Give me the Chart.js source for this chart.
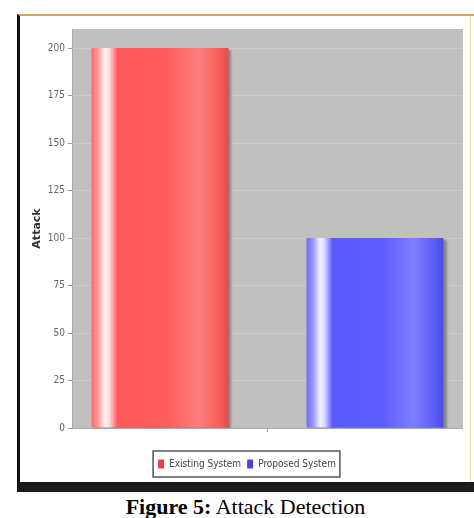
<!DOCTYPE html>
<html lang="en">
<head>
    <meta charset="UTF-8">
    <title>Attack Detection</title>
    <script src="https://cdn.jsdelivr.net/npm/chart.js"></script>
    <style>
        body {
            margin: 0;
            width: 474px;
            height: 518px;
            background: #fff;
            position: relative;
            overflow: hidden;
        }
        #frame {
            position: absolute;
            left: 17px;
            top: 14px;
            width: 457px;
            height: 478px;
            box-sizing: border-box;
            border-left: 3px solid #111;
            border-top: 2px solid #e2a64a;
            border-bottom: 10px solid #1a1a1a;
        }
        #edge {
            position: absolute;
            left: 470px;
            top: 16px;
            width: 1px;
            height: 466px;
            background: #eedcaa;
        }
        #chart-container {
            position: absolute;
            left: 31px;
            top: 16px;
            width: 432px;
            height: 466px;
        }
        #caption {
            position: absolute;
            left: 0;
            top: 495px;
            width: 491px;
            text-align: center;
            font-family: "Liberation Serif", "Times New Roman", serif;
            font-size: 22px;
            line-height: 24px;
            color: #000;
        }
    </style>
</head>
<body>
    <div id="frame"></div>
    <div id="edge"></div>
    <div id="chart-container">
        <canvas id="attackChart"></canvas>
    </div>
    <div id="caption"><b>Figure 5:</b> Attack Detection</div>

    <script>
        const categories = [''];
        const seriesNames = ['Existing System', 'Proposed System'];
        const existingValues = [200];
        const proposedValues = [100];
        const yTickValues = [0, 25, 50, 75, 100, 125, 150, 175, 200];

        const narrow = "'DejaVu Sans Condensed', 'Liberation Sans Narrow', 'Liberation Sans', sans-serif";
        const legendColors = ['#e8404e', '#4646e6'];
        const shineStops = [
            ['#ff6a6a', '#6a6aff', 0.00],
            ['#ff9c9c', '#9c9cff', 0.05],
            ['#fff4f4', '#f4f4ff', 0.10],
            ['#ffdcdc', '#dcdcff', 0.13],
            ['#ff5a5a', '#5a5aff', 0.19],
            ['#ff5c5c', '#5c5cff', 0.55],
            ['#ff7e7e', '#7e7eff', 0.78],
            ['#fa5e5e', '#5e5efa', 0.93],
            ['#e24c4c', '#4c4ce2', 1.00]
        ];

        // grey plot background
        const plotBg = {
            id: 'plotBg',
            beforeDraw(chart) {
                const { ctx, chartArea: a } = chart;
                ctx.save();
                ctx.fillStyle = '#c0c0c0';
                ctx.fillRect(a.left, a.top, a.right - a.left, a.bottom - a.top);
                ctx.restore();
            }
        };

        // horizontal shine gradient + soft shadow on the bars
        const barShine = {
            id: 'barShine',
            beforeDatasetsDraw(chart) {
                const ctx = chart.ctx;
                chart.data.datasets.forEach((ds, i) => {
                    chart.getDatasetMeta(i).data.forEach(bar => {
                        const left = bar.x - bar.width / 2;
                        const g = ctx.createLinearGradient(left, 0, left + bar.width, 0);
                        shineStops.forEach(s => g.addColorStop(s[2], s[i]));
                        bar.options.backgroundColor = g;
                    });
                });
                ctx.save();
                ctx.shadowColor = 'rgba(80, 80, 80, 0.5)';
                ctx.shadowOffsetX = 3;
                ctx.shadowOffsetY = 2;
                ctx.shadowBlur = 2;
            },
            afterDatasetsDraw(chart) {
                chart.ctx.restore();
            }
        };

        // frame round the legend
        const legendFrame = {
            id: 'legendFrame',
            afterDraw(chart) {
                const boxes = chart.legend.legendHitBoxes;
                if (!boxes.length) return;
                const ctx = chart.ctx;
                const l = Math.min(...boxes.map(b => b.left)) - 5;
                const r = Math.max(...boxes.map(b => b.left + b.width)) + 4;
                const t = Math.min(...boxes.map(b => b.top)) - 8;
                const btm = Math.max(...boxes.map(b => b.top + b.height)) + 8;
                ctx.save();
                ctx.strokeStyle = '#555';
                ctx.lineWidth = 1.5;
                ctx.strokeRect(l, t, r - l, btm - t);
                ctx.restore();
            }
        };

        const ctx = document.getElementById('attackChart').getContext('2d');
        new Chart(ctx, {
            type: 'bar',
            data: {
                labels: categories,
                datasets: [{
                    label: seriesNames[0],
                    data: existingValues,
                    backgroundColor: c => legendColors[c.datasetIndex],
                    borderWidth: 0
                }, {
                    label: seriesNames[1],
                    data: proposedValues,
                    backgroundColor: c => legendColors[c.datasetIndex],
                    borderWidth: 0
                }]
            },
            options: {
                responsive: true,
                maintainAspectRatio: false,
                animation: false,
                categoryPercentage: 1.1,
                barPercentage: 0.637,
                layout: { padding: { top: 13, left: 0, right: 0, bottom: 3 } },
                scales: {
                    x: {
                        grid: {
                            drawOnChartArea: false,
                            offset: false,
                            tickColor: '#999',
                            tickLength: 4
                        },
                        border: { color: '#aaa' },
                        ticks: { display: false },
                        afterFit(s) { s.height = 25; }
                    },
                    y: {
                        min: 0,
                        max: 210,
                        afterBuildTicks(s) { s.ticks = yTickValues.map(v => ({ value: v })); },
                        ticks: {
                            color: '#666',
                            padding: 3,
                            font: { family: narrow, size: 10 }
                        },
                        grid: { color: '#cdcdcd', tickColor: '#999', tickLength: 4 },
                        border: { color: '#aaa' },
                        title: {
                            display: true,
                            text: 'Attack',
                            color: '#333',
                            padding: { top: 0 },
                            font: { family: "'DejaVu Sans', sans-serif", weight: 'bold', size: 11 }
                        },
                        afterFit(s) { s.width = 41; }
                    }
                },
                plugins: {
                    legend: {
                        position: 'bottom',
                        labels: {
                            boxWidth: 6,
                            boxHeight: 9,
                            padding: 6,
                            color: '#444',
                            font: { family: narrow, size: 10 }
                        }
                    },
                    tooltip: { enabled: false }
                }
            },
            plugins: [plotBg, barShine, legendFrame]
        });
    </script>
</body>
</html>
